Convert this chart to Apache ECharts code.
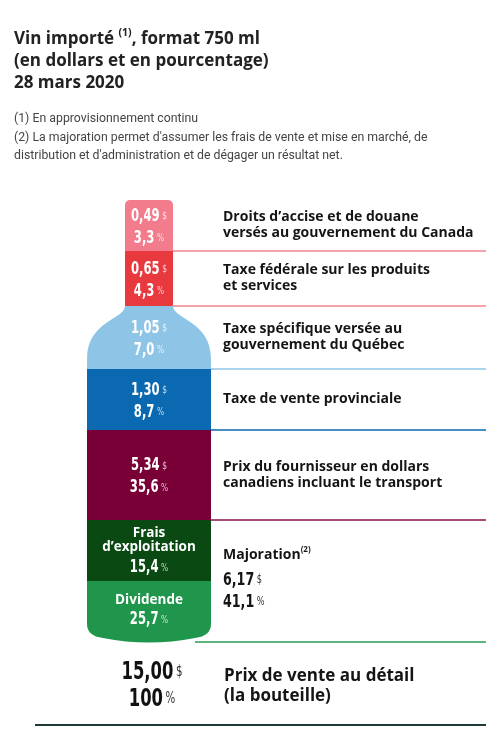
<!DOCTYPE html>
<html><head><meta charset="utf-8">
<script src="https://cdn.jsdelivr.net/npm/echarts@6/dist/echarts.min.js"></script>
<style>html,body{margin:0;padding:0;background:#fff}#c{width:499px;height:755px}</style>
</head><body><div id="c"></div>
<script>
// ---------- data ----------
const segmentLabels = [
  'Droits d’accise et de douane\nversés au gouvernement du Canada',
  'Taxe fédérale sur les produits\net services',
  'Taxe spécifique versée au\ngouvernement du Québec',
  'Taxe de vente provinciale',
  'Prix du fournisseur en dollars\ncanadiens incluant le transport',
  null,
  null
];
const innerNames = [null, null, null, null, null, 'Frais\nd’exploitation', 'Dividende'];
const segmentDollars = [0.49, 0.65, 1.05, 1.30, 5.34, null, null];
const segmentPercents = [3.3, 4.3, 7.0, 8.7, 35.6, 15.4, 25.7];
const markupLabel = 'Majoration';
const markupDollars = 6.17;
const markupPercent = 41.1;
const totalDollars = 15.00;
const totalPercent = 100;
const totalLabel = 'Prix de vente au détail\n(la bouteille)';
const titleLines = ['Vin importé ', '(1)', ', format 750 ml', '(en dollars et en pourcentage)', '28 mars 2020'];
const footnotes = ['(1) En approvisionnement continu',
  '(2) La majoration permet d\'assumer les frais de vente et mise en marché, de',
  'distribution et d\'administration et de dégager un résultat net.'];

// ---------- style / layout ----------
const fillColors = ['#f27b8c', '#e8393f', '#8ec5e6', '#0a69b1', '#790037', '#0a4a12', '#1f964b'];
const lineColors = ['#f2858f', '#f2858f', '#8ec5e6', '#0a69b1', '#8a1048', null, '#2a9a55', '#1f3838'];
const rowSpans = [51, 55, 63, 61, 90, 61, 61, 83];
const BOTTLE_W = 124, NECK_W = 48;
const NUM = '"DejaVu Sans Condensed","DejaVu Sans",sans-serif';
const NUM_SCALE = 0.76;
const SANS = '"Open Sans",Lato,sans-serif';

const fmt = (v, d) => v.toFixed(d).replace('.', ',');
const rows = [];
let acc = 0;
rowSpans.forEach((s, i) => { rows.push([0.5, acc, acc + s, i]); acc += s; });

function numText(x, y, str, size, color, unitColor, lh, align) {
  return { type: 'text', x: x, y: y, scaleX: NUM_SCALE, style: {
    text: str, align: align || 'center', verticalAlign: 'middle', rich: {
      n: { fontFamily: NUM, fontWeight: 'bold', fontSize: size, fill: color, lineHeight: lh },
      u: { fontFamily: NUM, fontWeight: 'normal', fontSize: Math.round(size * 0.64), fill: unitColor, lineHeight: lh }
    } } };
}

function renderItem(params, api) {
  const i = api.value(3);
  const y0 = api.coord([0, api.value(1)])[1];
  const y1 = api.coord([0, api.value(2)])[1];
  const cs = params.coordSys;
  const L = cs.x, R = cs.x + cs.width, cx = L + BOTTLE_W / 2;
  const hw = BOTTLE_W / 2, nw = NECK_W / 2;
  const ch = [];
  const ym = (y0 + y1) / 2;
  const WU = 'rgba(255,255,255,0.75)';
  if (i < 7) {
    const fill = fillColors[i];
    if (i <= 1) {
      ch.push({ type: 'rect', shape: { x: cx - nw, y: y0, width: NECK_W, height: y1 - y0, r: i === 0 ? [5, 5, 0, 0] : 0 }, style: { fill: fill } });
    } else if (i === 2) {
      const p = 'M' + (cx - nw) + ',' + y0 + ' L' + (cx + nw) + ',' + y0 +
        ' C' + (cx + nw) + ',' + (y0 + 13) + ' ' + (cx + hw) + ',' + (y0 + 15) + ' ' + (cx + hw) + ',' + (y0 + 53) +
        ' L' + (cx + hw) + ',' + y1 + ' L' + (cx - hw) + ',' + y1 + ' L' + (cx - hw) + ',' + (y0 + 53) +
        ' C' + (cx - hw) + ',' + (y0 + 15) + ' ' + (cx - nw) + ',' + (y0 + 13) + ' ' + (cx - nw) + ',' + y0 + ' Z';
      ch.push({ type: 'path', shape: { pathData: p }, style: { fill: fill } });
    } else if (i === 6) {
      const p = 'M' + (cx - hw) + ',' + y0 + ' L' + (cx + hw) + ',' + y0 + ' L' + (cx + hw) + ',' + (y1 - 18) +
        ' Q' + (cx + hw) + ',' + (y1 - 6) + ' ' + (cx + hw - 16) + ',' + (y1 - 4) +
        ' Q' + cx + ',' + (y1 + 5) + ' ' + (cx - hw + 16) + ',' + (y1 - 4) +
        ' Q' + (cx - hw) + ',' + (y1 - 6) + ' ' + (cx - hw) + ',' + (y1 - 18) + ' Z';
      ch.push({ type: 'path', shape: { pathData: p }, style: { fill: fill } });
    } else {
      ch.push({ type: 'rect', shape: { x: cx - hw, y: y0, width: BOTTLE_W, height: y1 - y0 }, style: { fill: fill } });
    }
    if (i <= 4) {
      ch.push(numText(cx, ym + 2, '{n|' + fmt(segmentDollars[i], 2) + '} {u|$}\n{n|' + fmt(segmentPercents[i], 1) + '} {u|%}', 17, '#fff', WU, 22));
      ch.push({ type: 'text', x: cx + hw + 12, y: ym, style: {
        text: segmentLabels[i], fontFamily: SANS, fontWeight: 'bold', fontSize: 14, lineHeight: 16,
        fill: '#151515', align: 'left', verticalAlign: 'middle' } });
    } else if (i === 5) {
      ch.push({ type: 'text', x: cx, y: y0 + 20, style: { text: innerNames[i], fontFamily: SANS, fontWeight: 'bold',
        fontSize: 13.5, lineHeight: 14, fill: '#fff', align: 'center', verticalAlign: 'middle' } });
      ch.push(numText(cx, y0 + 48, '{n|' + fmt(segmentPercents[i], 1) + '} {u|%}', 17, '#fff', WU, 20));
      // markup (Frais + Dividende)
      ch.push({ type: 'text', x: cx + hw + 12, y: y1 - 26, style: {
        text: '{m|' + markupLabel + '}{s|(2)}', align: 'left', verticalAlign: 'middle', rich: {
          m: { fontFamily: SANS, fontWeight: 'bold', fontSize: 14, fill: '#151515', lineHeight: 18 },
          s: { fontFamily: SANS, fontWeight: 'bold', fontSize: 8, fill: '#151515', lineHeight: 16, verticalAlign: 'top' }
        } } });
      ch.push(numText(cx + hw + 12, y1 + 10, '{n|' + fmt(markupDollars, 2) + '} {u|$}\n{n|' + fmt(markupPercent, 1) + '} {u|%}', 18.5, '#151515', '#333', 22, 'left'));
    } else {
      ch.push({ type: 'text', x: cx, y: y0 + 19, style: { text: innerNames[i], fontFamily: SANS, fontWeight: 'bold',
        fontSize: 13.5, lineHeight: 14, fill: '#fff', align: 'center', verticalAlign: 'middle' } });
      ch.push(numText(cx, y0 + 39, '{n|' + fmt(segmentPercents[i], 1) + '} {u|%}', 17, '#fff', WU, 20));
    }
    if (lineColors[i]) {
      const xs = i <= 1 ? cx + nw - 1 : (i === 6 ? cx + hw - 16 : cx + hw);
      ch.push({ type: 'line', shape: { x1: xs, y1: y1, x2: R, y2: y1 }, style: { stroke: lineColors[i], lineWidth: 1.5 } });
    }
  } else {
    ch.push(numText(cx + 3, y0 + 44, '{n|' + fmt(totalDollars, 2) + '} {u|$}\n{n|' + totalPercent + '} {u|%}', 24, '#111', '#333', 27));
    ch.push({ type: 'text', x: cx + hw + 13, y: y0 + 44, style: {
      text: totalLabel, fontFamily: SANS, fontWeight: 'bold', fontSize: 17, lineHeight: 20,
      fill: '#151515', align: 'left', verticalAlign: 'middle' } });
    ch.push({ type: 'line', shape: { x1: L - 52, y1: y1, x2: R, y2: y1 }, style: { stroke: lineColors[i], lineWidth: 2 } });
  }
  return { type: 'group', children: ch };
}

const chart = echarts.init(document.getElementById('c'));
chart.setOption({
  backgroundColor: '#fff',
  animation: false,
  title: [{
    left: 14, top: 28, padding: 0,
    text: '{t|' + titleLines[0] + '}{s|' + titleLines[1] + '}{t|' + titleLines[2] + '}\n{t|' + titleLines[3] + '}\n{t|' + titleLines[4] + '}',
    textStyle: { rich: {
      t: { fontFamily: SANS, fontWeight: 'bold', fontSize: 17, color: '#222', lineHeight: 22 },
      s: { fontFamily: SANS, fontWeight: 'bold', fontSize: 10.5, color: '#222', lineHeight: 14, verticalAlign: 'top' }
    } }
  }, {
    left: 14, top: 110, padding: 0,
    text: footnotes.join('\n'),
    textStyle: { fontFamily: 'Roboto,sans-serif', fontWeight: 'normal', fontSize: 12.3, color: '#444', lineHeight: 18.4 }
  }],
  grid: { left: 87, right: 13, top: 200, bottom: 30 },
  xAxis: { type: 'value', min: 0, max: 1, show: false },
  yAxis: { type: 'value', min: 0, max: acc, inverse: true, show: false },
  series: [{
    type: 'custom', renderItem: renderItem,
    encode: { x: 0, y: [1, 2] },
    data: rows
  }]
});
</script></body></html>
